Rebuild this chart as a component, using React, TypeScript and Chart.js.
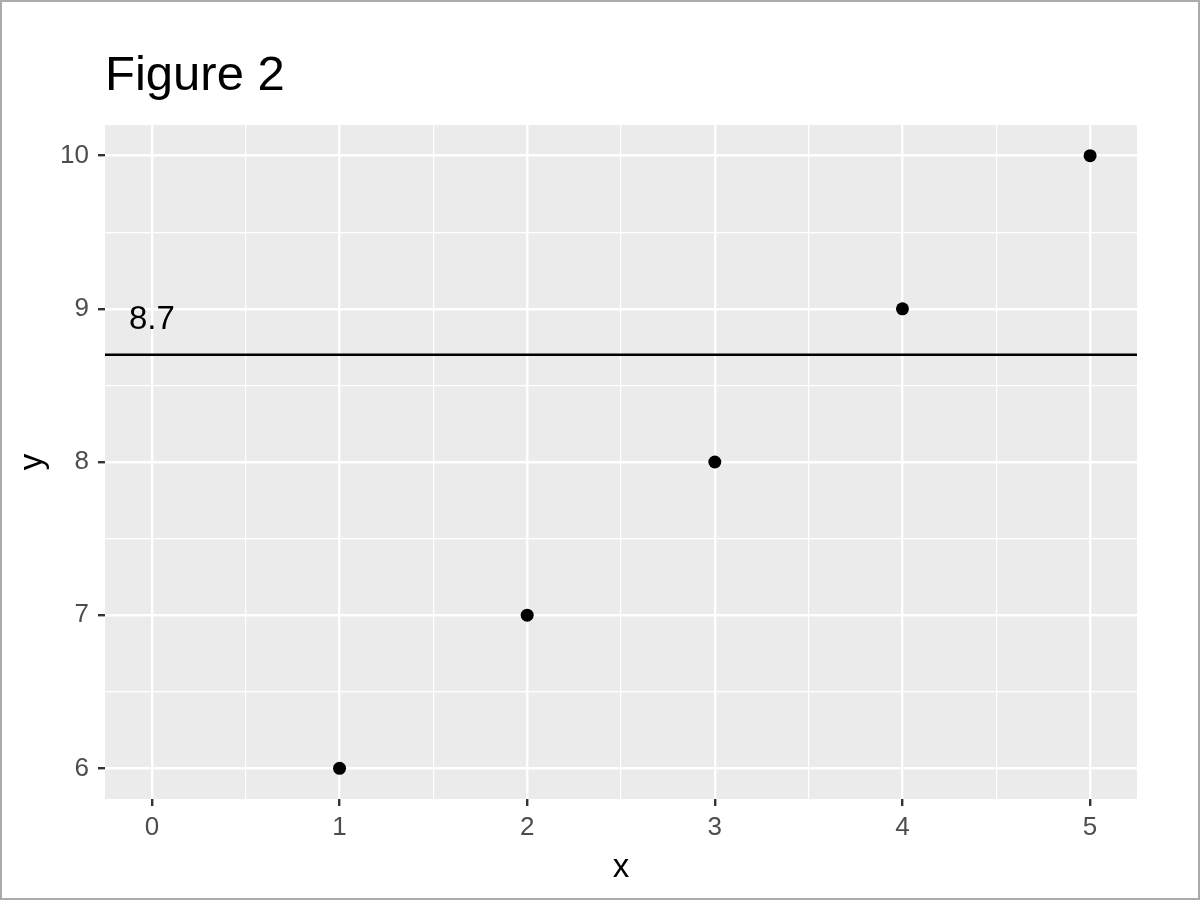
import React, { useEffect, useRef } from "react";
import { Chart, registerables } from "chart.js";

Chart.register(...registerables);

// ---- data ----
const xValues = [1, 2, 3, 4, 5];
const yValues = [6, 7, 8, 9, 10];
const xTicks = [0, 1, 2, 3, 4, 5];
const yTicks = [6, 7, 8, 9, 10];
const xRange = [-0.25, 5.25];
const yRange = [5.8, 10.2];
const hLineValue = 8.7;
const labelText = "8.7";
const labelX = 0;
const labelY = 8.93;
const titleText = "Figure 2";
const xTitle = "x";
const yTitle = "y";

const FONT = '"Liberation Sans", Arial, Helvetica, sans-serif';

function withMinor(major: number[]): number[] {
  const out: number[] = [...major];
  for (let i = 0; i < major.length - 1; i++) out.push((major[i] + major[i + 1]) / 2);
  return out.sort((a, b) => a - b);
}

const isMajor = (v: number, major: number[]) => major.some((m) => Math.abs(m - v) < 1e-9);

export default function App() {
  const canvasRef = useRef<HTMLCanvasElement | null>(null);

  useEffect(() => {
    if (!canvasRef.current) return;

    const panelPlugin = {
      id: "panel",
      beforeDraw(chart: any) {
        const { ctx, chartArea } = chart;
        ctx.save();
        ctx.fillStyle = "#ffffff";
        ctx.fillRect(0, 0, chart.width, chart.height);
        ctx.fillStyle = "#EBEBEB";
        ctx.fillRect(chartArea.left, chartArea.top, chartArea.right - chartArea.left, chartArea.bottom - chartArea.top);
        ctx.restore();
      },
      beforeDatasetsDraw(chart: any) {
        const { ctx, chartArea, scales } = chart;
        const yPix = scales.y.getPixelForValue(hLineValue);
        ctx.save();
        ctx.strokeStyle = "#000000";
        ctx.lineWidth = 2.4;
        ctx.beginPath();
        ctx.moveTo(chartArea.left, yPix);
        ctx.lineTo(chartArea.right, yPix);
        ctx.stroke();
        ctx.restore();
      },
      afterDatasetsDraw(chart: any) {
        const { ctx, scales } = chart;
        ctx.save();
        ctx.fillStyle = "#000000";
        ctx.font = `33px ${FONT}`;
        ctx.textAlign = "center";
        ctx.textBaseline = "middle";
        ctx.fillText(labelText, scales.x.getPixelForValue(labelX), scales.y.getPixelForValue(labelY));
        ctx.restore();
      },
    };

    const gridOpts = (major: number[]) => ({
      color: "#FFFFFF",
      lineWidth: (c: any) => (c.tick && isMajor(c.tick.value, major) ? 2.4 : 1.2),
      tickColor: (c: any) => (c.tick && isMajor(c.tick.value, major) ? "#333333" : "rgba(0,0,0,0)"),
      tickWidth: (c: any) => (c.tick && isMajor(c.tick.value, major) ? 2.4 : 0),
      tickLength: 7,
      drawTicks: true,
      drawOnChartArea: true,
    });

    const chart = new Chart(canvasRef.current, {
      type: "scatter",
      data: {
        datasets: [
          {
            data: xValues.map((x, i) => ({ x, y: yValues[i] })),
            backgroundColor: "#000000",
            borderColor: "#000000",
            pointRadius: 6.5,
            pointHoverRadius: 6.5,
            borderWidth: 0,
          },
        ],
      },
      options: {
        animation: false,
        responsive: false,
        devicePixelRatio: 1,
        events: [],
        layout: { padding: { top: 0, left: 0, right: 61, bottom: 0 } },
        plugins: {
          legend: { display: false },
          tooltip: { enabled: false },
          title: {
            display: true,
            text: titleText,
            align: "start",
            fullSize: false,
            color: "#000000",
            font: { family: FONT, size: 49, weight: "normal", lineHeight: 1.2 },
            padding: { top: 45, bottom: 19.2 },
          },
        },
        scales: {
          x: {
            type: "linear",
            min: xRange[0],
            max: xRange[1],
            afterBuildTicks: (scale: any) => {
              scale.ticks = withMinor(xTicks).map((v) => ({ value: v }));
            },
            afterFit: (scale: any) => {
              scale.height = 99;
            },
            grid: gridOpts(xTicks) as any,
            border: { display: false },
            ticks: {
              autoSkip: false,
              maxRotation: 0,
              padding: 6,
              color: "#4D4D4D",
              font: { family: FONT, size: 26 },
              callback: (v: any) => (isMajor(Number(v), xTicks) ? String(v) : ""),
            },
            title: {
              display: true,
              text: xTitle,
              color: "#000000",
              font: { family: FONT, size: 33 },
              padding: { top: 0, bottom: 10 },
            },
          },
          y: {
            type: "linear",
            min: yRange[0],
            max: yRange[1],
            afterBuildTicks: (scale: any) => {
              scale.ticks = withMinor(yTicks).map((v) => ({ value: v }));
            },
            afterFit: (scale: any) => {
              scale.width = 103;
            },
            grid: gridOpts(yTicks) as any,
            border: { display: false },
            ticks: {
              autoSkip: false,
              padding: 9,
              color: "#4D4D4D",
              font: { family: FONT, size: 26 },
              callback: (v: any) => (isMajor(Number(v), yTicks) ? String(v) : ""),
            },
            title: {
              display: true,
              text: yTitle,
              color: "#000000",
              font: { family: FONT, size: 33 },
              padding: { top: 11, bottom: 0 },
            },
          },
        },
      },
      plugins: [panelPlugin],
    });

    return () => chart.destroy();
  }, []);

  return (
    <div
      style={{
        position: "absolute",
        left: 0,
        top: 0,
        width: 1200,
        height: 900,
        boxSizing: "border-box",
        border: "2px solid #ABABAB",
        background: "#ffffff",
      }}
    >
      <canvas ref={canvasRef} width={1196} height={896} style={{ display: "block", width: 1196, height: 896 }} />
    </div>
  );
}
